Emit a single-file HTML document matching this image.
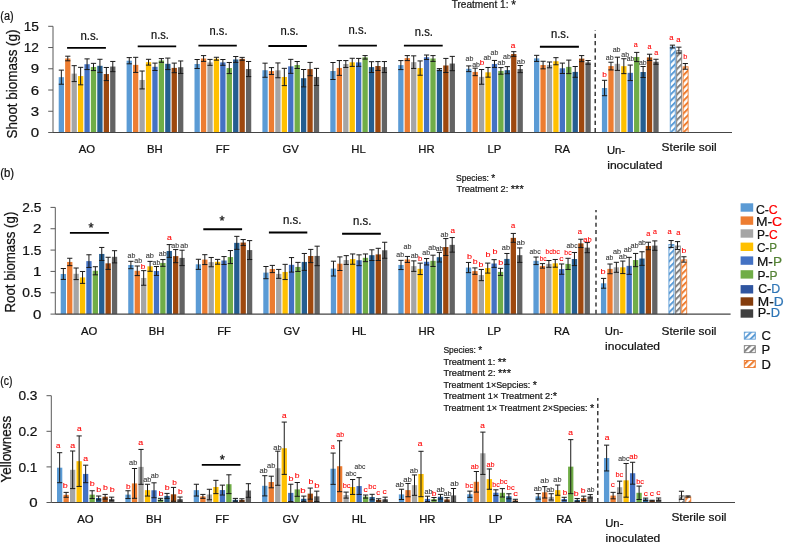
<!DOCTYPE html>
<html><head><meta charset="utf-8"><style>html,body{margin:0;padding:0;background:#fff;}svg{display:block;} text.t{stroke:#111;stroke-width:0.22px;}</style></head><body>
<svg width="785" height="543" viewBox="0 0 785 543" font-family='"Liberation Sans", sans-serif' style="will-change:transform">
<defs>
<pattern id="h0" patternUnits="userSpaceOnUse" width="4.5" height="4.5" patternTransform="rotate(45)"><rect width="4.5" height="4.5" fill="#fff"/><rect width="2.0" height="4.5" fill="#5B9BD5"/></pattern>
<pattern id="h1" patternUnits="userSpaceOnUse" width="4.5" height="4.5" patternTransform="rotate(45)"><rect width="4.5" height="4.5" fill="#fff"/><rect width="2.0" height="4.5" fill="#7F7F7F"/></pattern>
<pattern id="h2" patternUnits="userSpaceOnUse" width="4.5" height="4.5" patternTransform="rotate(45)"><rect width="4.5" height="4.5" fill="#fff"/><rect width="2.0" height="4.5" fill="#ED7D31"/></pattern>
</defs>
<rect width="785" height="543" fill="#fff"/>
<rect x="58.7" y="77.17" width="5.3" height="55.33" fill="#5B9BD5"/>
<rect x="65.13" y="58.5" width="5.3" height="74" fill="#ED7D31"/>
<rect x="71.56" y="73.62" width="5.3" height="58.88" fill="#A5A5A5"/>
<rect x="77.99" y="76.08" width="5.3" height="56.42" fill="#FFC000"/>
<rect x="84.42" y="64.22" width="5.3" height="68.28" fill="#4472C4"/>
<rect x="90.85" y="66.95" width="5.3" height="65.55" fill="#70AD47"/>
<rect x="97.28" y="65.82" width="5.3" height="66.68" fill="#255E91"/>
<rect x="103.71" y="74.03" width="5.3" height="58.47" fill="#9E480E"/>
<rect x="110.14" y="66.55" width="5.3" height="65.95" fill="#636363"/>
<rect x="126.6" y="60.7" width="5.3" height="71.8" fill="#5B9BD5"/>
<rect x="133.03" y="64.88" width="5.3" height="67.62" fill="#ED7D31"/>
<rect x="139.46" y="79.97" width="5.3" height="52.53" fill="#A5A5A5"/>
<rect x="145.89" y="62.2" width="5.3" height="70.3" fill="#FFC000"/>
<rect x="152.32" y="66.8" width="5.3" height="65.7" fill="#4472C4"/>
<rect x="158.75" y="60.47" width="5.3" height="72.03" fill="#70AD47"/>
<rect x="165.18" y="63.83" width="5.3" height="68.67" fill="#255E91"/>
<rect x="171.61" y="67.9" width="5.3" height="64.6" fill="#9E480E"/>
<rect x="178.04" y="67.22" width="5.3" height="65.28" fill="#636363"/>
<rect x="194.5" y="64" width="5.3" height="68.5" fill="#5B9BD5"/>
<rect x="200.93" y="58.5" width="5.3" height="74" fill="#ED7D31"/>
<rect x="207.36" y="62.38" width="5.3" height="70.12" fill="#A5A5A5"/>
<rect x="213.79" y="58.73" width="5.3" height="73.78" fill="#FFC000"/>
<rect x="220.22" y="62.4" width="5.3" height="70.1" fill="#4472C4"/>
<rect x="226.65" y="68.03" width="5.3" height="64.47" fill="#70AD47"/>
<rect x="233.08" y="59.48" width="5.3" height="73.03" fill="#255E91"/>
<rect x="239.51" y="58.83" width="5.3" height="73.67" fill="#9E480E"/>
<rect x="245.94" y="69.03" width="5.3" height="63.47" fill="#636363"/>
<rect x="262.4" y="70.22" width="5.3" height="62.28" fill="#5B9BD5"/>
<rect x="268.83" y="71.07" width="5.3" height="61.43" fill="#ED7D31"/>
<rect x="275.26" y="70.35" width="5.3" height="62.15" fill="#A5A5A5"/>
<rect x="281.69" y="76.98" width="5.3" height="55.52" fill="#FFC000"/>
<rect x="288.12" y="66.35" width="5.3" height="66.15" fill="#4472C4"/>
<rect x="294.55" y="65" width="5.3" height="67.5" fill="#70AD47"/>
<rect x="300.98" y="78.2" width="5.3" height="54.3" fill="#255E91"/>
<rect x="307.41" y="69.07" width="5.3" height="63.43" fill="#9E480E"/>
<rect x="313.84" y="76.93" width="5.3" height="55.57" fill="#636363"/>
<rect x="330.3" y="71" width="5.3" height="61.5" fill="#5B9BD5"/>
<rect x="336.73" y="67.95" width="5.3" height="64.55" fill="#ED7D31"/>
<rect x="343.16" y="64.03" width="5.3" height="68.47" fill="#A5A5A5"/>
<rect x="349.59" y="62.33" width="5.3" height="70.17" fill="#FFC000"/>
<rect x="356.02" y="62.38" width="5.3" height="70.12" fill="#4472C4"/>
<rect x="362.45" y="57.33" width="5.3" height="75.17" fill="#70AD47"/>
<rect x="368.88" y="67.1" width="5.3" height="65.4" fill="#255E91"/>
<rect x="375.31" y="66.03" width="5.3" height="66.47" fill="#9E480E"/>
<rect x="381.74" y="67.05" width="5.3" height="65.45" fill="#636363"/>
<rect x="398.2" y="65.1" width="5.3" height="67.4" fill="#5B9BD5"/>
<rect x="404.63" y="58.1" width="5.3" height="74.4" fill="#ED7D31"/>
<rect x="411.06" y="62.15" width="5.3" height="70.35" fill="#A5A5A5"/>
<rect x="417.49" y="68.08" width="5.3" height="64.42" fill="#FFC000"/>
<rect x="423.92" y="57.27" width="5.3" height="75.22" fill="#4472C4"/>
<rect x="430.35" y="58.5" width="5.3" height="74" fill="#70AD47"/>
<rect x="436.78" y="69.6" width="5.3" height="62.9" fill="#255E91"/>
<rect x="443.21" y="65.47" width="5.3" height="67.03" fill="#9E480E"/>
<rect x="449.64" y="63.53" width="5.3" height="68.97" fill="#636363"/>
<rect x="466.1" y="68.78" width="5.3" height="63.72" fill="#5B9BD5"/>
<rect x="472.53" y="71.92" width="5.3" height="60.58" fill="#ED7D31"/>
<rect x="478.96" y="76.88" width="5.3" height="55.62" fill="#A5A5A5"/>
<rect x="485.39" y="72.32" width="5.3" height="60.18" fill="#FFC000"/>
<rect x="491.82" y="63.95" width="5.3" height="68.55" fill="#4472C4"/>
<rect x="498.25" y="70.9" width="5.3" height="61.6" fill="#70AD47"/>
<rect x="504.68" y="70.17" width="5.3" height="62.33" fill="#255E91"/>
<rect x="511.11" y="54.03" width="5.3" height="78.47" fill="#9E480E"/>
<rect x="517.54" y="69.08" width="5.3" height="63.42" fill="#636363"/>
<rect x="534" y="58.38" width="5.3" height="74.12" fill="#5B9BD5"/>
<rect x="540.43" y="65.05" width="5.3" height="67.45" fill="#ED7D31"/>
<rect x="546.86" y="64.9" width="5.3" height="67.6" fill="#A5A5A5"/>
<rect x="553.29" y="61.23" width="5.3" height="71.28" fill="#FFC000"/>
<rect x="559.72" y="68.3" width="5.3" height="64.2" fill="#4472C4"/>
<rect x="566.15" y="66.88" width="5.3" height="65.62" fill="#70AD47"/>
<rect x="572.58" y="71.9" width="5.3" height="60.6" fill="#255E91"/>
<rect x="579.01" y="58.62" width="5.3" height="73.88" fill="#9E480E"/>
<rect x="585.44" y="62.38" width="5.3" height="70.12" fill="#636363"/>
<rect x="601.9" y="88" width="5.3" height="44.5" fill="#5B9BD5"/>
<rect x="608.33" y="66.08" width="5.3" height="66.42" fill="#ED7D31"/>
<rect x="614.76" y="63.8" width="5.3" height="68.7" fill="#A5A5A5"/>
<rect x="621.19" y="66.18" width="5.3" height="66.32" fill="#FFC000"/>
<rect x="627.62" y="72.82" width="5.3" height="59.68" fill="#4472C4"/>
<rect x="634.05" y="57" width="5.3" height="75.5" fill="#70AD47"/>
<rect x="640.48" y="72" width="5.3" height="60.5" fill="#255E91"/>
<rect x="646.91" y="57.38" width="5.3" height="75.12" fill="#9E480E"/>
<rect x="653.34" y="61.75" width="5.3" height="70.75" fill="#636363"/>
<rect x="670.25" y="47" width="5" height="85.5" fill="url(#h0)" stroke="#5B9BD5" stroke-width="0.9"/>
<rect x="676.68" y="50.58" width="5" height="81.92" fill="url(#h1)" stroke="#7F7F7F" stroke-width="0.9"/>
<rect x="683.11" y="66.83" width="5" height="65.67" fill="url(#h2)" stroke="#ED7D31" stroke-width="0.9"/>
<path d="M61.35 70.12V84.22M58.75 70.12H63.95M58.75 84.22H63.95M67.78 56.2V60.8M65.18 56.2H70.38M65.18 60.8H70.38M74.21 65.67V81.58M71.61 65.67H76.81M71.61 81.58H76.81M80.64 67.33V84.83M78.04 67.33H83.24M78.04 84.83H83.24M87.07 58.88V69.57M84.47 58.88H89.67M84.47 69.57H89.67M93.5 63.35V70.55M90.9 63.35H96.1M90.9 70.55H96.1M99.93 59.27V72.38M97.33 59.27H102.53M97.33 72.38H102.53M106.36 67.48V80.58M103.76 67.48H108.96M103.76 80.58H108.96M112.79 61.45V71.65M110.19 61.45H115.39M110.19 71.65H115.39M129.25 57.6V63.8M126.65 57.6H131.85M126.65 63.8H131.85M135.68 57.32V72.43M133.08 57.32H138.28M133.08 72.43H138.28M142.11 71.03V88.92M139.51 71.03H144.71M139.51 88.92H144.71M148.54 59.3V65.1M145.94 59.3H151.14M145.94 65.1H151.14M154.97 63.1V70.5M152.37 63.1H157.57M152.37 70.5H157.57M161.4 58.62V62.32M158.8 58.62H164M158.8 62.32H164M167.83 58.08V69.58M165.23 58.08H170.43M165.23 69.58H170.43M174.26 63.1V72.7M171.66 63.1H176.86M171.66 72.7H176.86M180.69 60.97V73.47M178.09 60.97H183.29M178.09 73.47H183.29M197.15 59.5V68.5M194.55 59.5H199.75M194.55 68.5H199.75M203.58 55.6V61.4M200.98 55.6H206.18M200.98 61.4H206.18M210.01 59.42V65.33M207.41 59.42H212.61M207.41 65.33H212.61M216.44 57.28V60.17M213.84 57.28H219.04M213.84 60.17H219.04M222.87 59.5V65.3M220.27 59.5H225.47M220.27 65.3H225.47M229.3 62.48V73.58M226.7 62.48H231.9M226.7 73.58H231.9M235.73 56.53V62.42M233.13 56.53H238.33M233.13 62.42H238.33M242.16 57.38V60.28M239.56 57.38H244.76M239.56 60.28H244.76M248.59 61.48V76.58M245.99 61.48H251.19M245.99 76.58H251.19M265.05 63.17V77.28M262.45 63.17H267.65M262.45 77.28H267.65M271.48 67.62V74.52M268.88 67.62H274.08M268.88 74.52H274.08M277.91 62.95V77.75M275.31 62.95H280.51M275.31 77.75H280.51M284.34 68.33V85.62M281.74 68.33H286.94M281.74 85.62H286.94M290.77 59.35V73.35M288.17 59.35H293.37M288.17 73.35H293.37M297.2 61.5V68.5M294.6 61.5H299.8M294.6 68.5H299.8M303.63 69.5V86.9M301.03 69.5H306.23M301.03 86.9H306.23M310.06 62.42V75.72M307.46 62.42H312.66M307.46 75.72H312.66M316.49 68.38V85.48M313.89 68.38H319.09M313.89 85.48H319.09M332.95 62.5V79.5M330.35 62.5H335.55M330.35 79.5H335.55M339.38 60.55V75.35M336.78 60.55H341.98M336.78 75.35H341.98M345.81 60.58V67.48M343.21 60.58H348.41M343.21 67.48H348.41M352.24 58.27V66.38M349.64 58.27H354.84M349.64 66.38H354.84M358.67 58.42V66.33M356.07 58.42H361.27M356.07 66.33H361.27M365.1 55.58V59.08M362.5 55.58H367.7M362.5 59.08H367.7M371.53 61.7V72.5M368.93 61.7H374.13M368.93 72.5H374.13M377.96 61.58V70.48M375.36 61.58H380.56M375.36 70.48H380.56M384.39 61.55V72.55M381.79 61.55H386.99M381.79 72.55H386.99M400.85 60.6V69.6M398.25 60.6H403.45M398.25 69.6H403.45M407.28 55.6V60.6M404.68 55.6H409.88M404.68 60.6H409.88M413.71 55.85V68.45M411.11 55.85H416.31M411.11 68.45H416.31M420.14 60.93V75.22M417.54 60.93H422.74M417.54 75.22H422.74M426.57 55.02V59.52M423.97 55.02H429.17M423.97 59.52H429.17M433 55.6V61.4M430.4 55.6H435.6M430.4 61.4H435.6M439.43 68.6V70.6M436.83 68.6H442.03M436.83 70.6H442.03M445.86 58.42V72.53M443.26 58.42H448.46M443.26 72.53H448.46M452.29 56.38V70.68M449.69 56.38H454.89M449.69 70.68H454.89M468.75 65.93V71.62M466.15 65.93H471.35M466.15 71.62H471.35M475.18 68.17V75.67M472.58 68.17H477.78M472.58 75.67H477.78M481.61 69.53V84.22M479.01 69.53H484.21M479.01 84.22H484.21M488.04 67.47V77.17M485.44 67.47H490.64M485.44 77.17H490.64M494.47 60.45V67.45M491.87 60.45H497.07M491.87 67.45H497.07M500.9 67.6V74.2M498.3 67.6H503.5M498.3 74.2H503.5M507.33 66.62V73.72M504.73 66.62H509.93M504.73 73.72H509.93M513.76 51.68V56.38M511.16 51.68H516.36M511.16 56.38H516.36M520.19 65.53V72.62M517.59 65.53H522.79M517.59 72.62H522.79M536.65 55.33V61.42M534.05 55.33H539.25M534.05 61.42H539.25M543.08 61.25V68.85M540.48 61.25H545.68M540.48 68.85H545.68M549.51 62V67.8M546.91 62H552.11M546.91 67.8H552.11M555.94 57.67V64.78M553.34 57.67H558.54M553.34 64.78H558.54M562.37 63.1V73.5M559.77 63.1H564.97M559.77 73.5H564.97M568.8 60.12V73.62M566.2 60.12H571.4M566.2 73.62H571.4M575.23 66.5V77.3M572.63 66.5H577.83M572.63 77.3H577.83M581.66 55.58V61.67M579.06 55.58H584.26M579.06 61.67H584.26M588.09 60.52V64.22M585.49 60.52H590.69M585.49 64.22H590.69M604.55 80.3V95.7M601.95 80.3H607.15M601.95 95.7H607.15M610.98 62.23V69.92M608.38 62.23H613.58M608.38 69.92H613.58M617.41 57.2V70.4M614.81 57.2H620.01M614.81 70.4H620.01M623.84 58.73V73.62M621.24 58.73H626.44M621.24 73.62H626.44M630.27 65.07V80.57M627.67 65.07H632.87M627.67 80.57H632.87M636.7 52.4V61.6M634.1 52.4H639.3M634.1 61.6H639.3M643.13 66.5V77.5M640.53 66.5H645.73M640.53 77.5H645.73M649.56 54.22V60.53M646.96 54.22H652.16M646.96 60.53H652.16M655.99 59.25V64.25M653.39 59.25H658.59M653.39 64.25H658.59M672.45 45.15V47.95M669.85 45.15H675.05M669.85 47.95H675.05M678.88 47.17V53.08M676.28 47.17H681.48M676.28 53.08H681.48M685.31 63.52V69.22M682.71 63.52H687.91M682.71 69.22H687.91" stroke="#1a1a1a" stroke-width="1" fill="none"/>
<path d="M53 26.3V132.5" stroke="#595959" stroke-width="1" fill="none"/>
<path d="M48.2 132.5H53M48.2 111.26H53M48.2 90.02H53M48.2 68.78H53M48.2 47.54H53M48.2 26.3H53" stroke="#595959" stroke-width="1" fill="none"/>
<path d="M53 132.5H732" stroke="#454545" stroke-width="1.2" fill="none"/>
<text class="t" transform="translate(39 137.2) scale(1.14 1)" font-size="13.2" text-anchor="end" fill="#111111">0</text>
<text class="t" transform="translate(39 115.96) scale(1.14 1)" font-size="13.2" text-anchor="end" fill="#111111">3</text>
<text class="t" transform="translate(39 94.72) scale(1.14 1)" font-size="13.2" text-anchor="end" fill="#111111">6</text>
<text class="t" transform="translate(39 73.48) scale(1.14 1)" font-size="13.2" text-anchor="end" fill="#111111">9</text>
<text class="t" transform="translate(39 52.24) scale(1.04 1)" font-size="13.2" text-anchor="end" fill="#111111">12</text>
<text class="t" transform="translate(39 31) scale(1.04 1)" font-size="13.2" text-anchor="end" fill="#111111">15</text>
<text x="469.45" y="61.4" font-size="7.9" text-anchor="middle" fill="#333333" stroke="#333333" stroke-width="0.1" textLength="7.8" lengthAdjust="spacingAndGlyphs">ab</text>
<text x="476.05" y="67" font-size="7.9" text-anchor="middle" fill="#333333" stroke="#333333" stroke-width="0.1" textLength="7.8" lengthAdjust="spacingAndGlyphs">ab</text>
<text x="482.15" y="65.3" font-size="7.9" text-anchor="middle" fill="#FF0000" stroke="#FF0000" stroke-width="0.1" textLength="4.6" lengthAdjust="spacingAndGlyphs">b</text>
<text x="487.35" y="60.3" font-size="7.9" text-anchor="middle" fill="#333333" stroke="#333333" stroke-width="0.1" textLength="7.8" lengthAdjust="spacingAndGlyphs">ab</text>
<text x="494.4" y="55.4" font-size="7.9" text-anchor="middle" fill="#333333" stroke="#333333" stroke-width="0.1" textLength="7.7" lengthAdjust="spacingAndGlyphs">ab</text>
<text x="501.5" y="65.1" font-size="7.9" text-anchor="middle" fill="#333333" stroke="#333333" stroke-width="0.1" textLength="7.9" lengthAdjust="spacingAndGlyphs">ab</text>
<text x="507" y="59.2" font-size="7.9" text-anchor="middle" fill="#333333" stroke="#333333" stroke-width="0.1" textLength="7.9" lengthAdjust="spacingAndGlyphs">ab</text>
<text x="513.05" y="47.95" font-size="7.9" text-anchor="middle" fill="#FF0000" stroke="#FF0000" stroke-width="0.1" textLength="4.6" lengthAdjust="spacingAndGlyphs">a</text>
<text x="520.95" y="63.7" font-size="7.9" text-anchor="middle" fill="#333333" stroke="#333333" stroke-width="0.1" textLength="8.2" lengthAdjust="spacingAndGlyphs">ab</text>
<text x="604.45" y="76.9" font-size="7.9" text-anchor="middle" fill="#FF0000" stroke="#FF0000" stroke-width="0.1" textLength="4.6" lengthAdjust="spacingAndGlyphs">b</text>
<text x="609.65" y="59.8" font-size="7.9" text-anchor="middle" fill="#333333" stroke="#333333" stroke-width="0.1" textLength="7.8" lengthAdjust="spacingAndGlyphs">ab</text>
<text x="616.6" y="52.2" font-size="7.9" text-anchor="middle" fill="#333333" stroke="#333333" stroke-width="0.1" textLength="7.9" lengthAdjust="spacingAndGlyphs">ab</text>
<text x="625.2" y="56.5" font-size="7.9" text-anchor="middle" fill="#333333" stroke="#333333" stroke-width="0.1" textLength="7.9" lengthAdjust="spacingAndGlyphs">ab</text>
<text x="630.55" y="60.9" font-size="7.9" text-anchor="middle" fill="#333333" stroke="#333333" stroke-width="0.1" textLength="7.6" lengthAdjust="spacingAndGlyphs">ab</text>
<text x="635.65" y="47.25" font-size="7.9" text-anchor="middle" fill="#FF0000" stroke="#FF0000" stroke-width="0.1" textLength="4" lengthAdjust="spacingAndGlyphs">a</text>
<text x="642.8" y="65.3" font-size="7.9" text-anchor="middle" fill="#333333" stroke="#333333" stroke-width="0.1" textLength="7.7" lengthAdjust="spacingAndGlyphs">ab</text>
<text x="649.45" y="49.05" font-size="7.9" text-anchor="middle" fill="#FF0000" stroke="#FF0000" stroke-width="0.1" textLength="4" lengthAdjust="spacingAndGlyphs">a</text>
<text x="656.25" y="55.15" font-size="7.9" text-anchor="middle" fill="#FF0000" stroke="#FF0000" stroke-width="0.1" textLength="4" lengthAdjust="spacingAndGlyphs">a</text>
<text x="671.3" y="39.65" font-size="7.9" text-anchor="middle" fill="#FF0000" stroke="#FF0000" stroke-width="0.1" textLength="4.3" lengthAdjust="spacingAndGlyphs">a</text>
<text x="678.3" y="42.35" font-size="7.9" text-anchor="middle" fill="#FF0000" stroke="#FF0000" stroke-width="0.1" textLength="4.3" lengthAdjust="spacingAndGlyphs">a</text>
<text x="685.4" y="59.4" font-size="7.9" text-anchor="middle" fill="#FF0000" stroke="#FF0000" stroke-width="0.1" textLength="4.1" lengthAdjust="spacingAndGlyphs">b</text>
<path d="M67.1 47.9H105.9" stroke="#000" stroke-width="1.9" fill="none"/>
<text class="t" x="80.4" y="40" font-size="12" fill="#111111" textLength="18.4" lengthAdjust="spacingAndGlyphs">n.s.</text>
<path d="M137.7 46.4H176.2" stroke="#000" stroke-width="1.9" fill="none"/>
<text class="t" x="151.1" y="39" font-size="12" fill="#111111" textLength="17.8" lengthAdjust="spacingAndGlyphs">n.s.</text>
<path d="M198.4 45.6H236.8" stroke="#000" stroke-width="1.9" fill="none"/>
<text class="t" x="209.6" y="35.1" font-size="12" fill="#111111" textLength="17.9" lengthAdjust="spacingAndGlyphs">n.s.</text>
<path d="M268.4 46H306.9" stroke="#000" stroke-width="1.9" fill="none"/>
<text class="t" x="280.4" y="34.8" font-size="12" fill="#111111" textLength="18.1" lengthAdjust="spacingAndGlyphs">n.s.</text>
<path d="M338.4 45.6H376.9" stroke="#000" stroke-width="1.9" fill="none"/>
<text class="t" x="348.6" y="34.1" font-size="12" fill="#111111" textLength="18.2" lengthAdjust="spacingAndGlyphs">n.s.</text>
<path d="M403.9 45.6H442.7" stroke="#000" stroke-width="1.9" fill="none"/>
<text class="t" x="414.8" y="35.8" font-size="12" fill="#111111" textLength="18.1" lengthAdjust="spacingAndGlyphs">n.s.</text>
<path d="M539.9 46.8H578.9" stroke="#000" stroke-width="1.9" fill="none"/>
<text class="t" x="551" y="37.8" font-size="12" fill="#111111" textLength="18.1" lengthAdjust="spacingAndGlyphs">n.s.</text>
<text class="t" x="451.7" y="8" font-size="10.2" fill="#1a1a1a" textLength="64.3" lengthAdjust="spacingAndGlyphs">Treatment 1: <tspan font-size="1.2em" dy="0.9">*</tspan></text>
<path d="M595.2 132.2V30.2" stroke="#1a1a1a" stroke-width="1.3" stroke-dasharray="4.1 3.15" fill="none"/>
<text class="t" x="86.95" y="152.8" font-size="11.3" text-anchor="middle" fill="#111111">AO</text>
<text class="t" x="154.85" y="152.8" font-size="11.3" text-anchor="middle" fill="#111111">BH</text>
<text class="t" x="222.75" y="152.8" font-size="11.3" text-anchor="middle" fill="#111111">FF</text>
<text class="t" x="290.65" y="152.8" font-size="11.3" text-anchor="middle" fill="#111111">GV</text>
<text class="t" x="358.55" y="152.8" font-size="11.3" text-anchor="middle" fill="#111111">HL</text>
<text class="t" x="426.45" y="152.8" font-size="11.3" text-anchor="middle" fill="#111111">HR</text>
<text class="t" x="494.35" y="152.8" font-size="11.3" text-anchor="middle" fill="#111111">LP</text>
<text class="t" x="562.25" y="152.8" font-size="11.3" text-anchor="middle" fill="#111111">RA</text>
<text class="t" x="606.9" y="154.1" font-size="11.3" fill="#111111">Un-</text>
<text class="t" x="607.2" y="168.9" font-size="11.3" fill="#111111" textLength="55.2" lengthAdjust="spacingAndGlyphs">inoculated</text>
<text class="t" x="661.6" y="151.4" font-size="11.3" fill="#111111" textLength="55.1" lengthAdjust="spacingAndGlyphs">Sterile soil</text>
<text class="t" transform="translate(17 138.5) rotate(-90)" font-size="14.2" fill="#111111" textLength="109" lengthAdjust="spacingAndGlyphs">Shoot biomass (g)</text>
<text class="t" x="0.3" y="19.6" font-size="12" fill="#111111" textLength="13.3" lengthAdjust="spacingAndGlyphs">(a)</text>
<rect x="60.7" y="273.98" width="5.3" height="40.12" fill="#5B9BD5"/>
<rect x="67.1" y="261.95" width="5.3" height="52.15" fill="#ED7D31"/>
<rect x="73.5" y="273.8" width="5.3" height="40.3" fill="#A5A5A5"/>
<rect x="79.9" y="277.43" width="5.3" height="36.68" fill="#FFC000"/>
<rect x="86.3" y="261.12" width="5.3" height="52.98" fill="#4472C4"/>
<rect x="92.7" y="270.77" width="5.3" height="43.33" fill="#70AD47"/>
<rect x="99.1" y="253.95" width="5.3" height="60.15" fill="#255E91"/>
<rect x="105.5" y="263.33" width="5.3" height="50.77" fill="#9E480E"/>
<rect x="111.9" y="256.8" width="5.3" height="57.3" fill="#636363"/>
<rect x="128.23" y="265" width="5.3" height="49.1" fill="#5B9BD5"/>
<rect x="134.63" y="270.8" width="5.3" height="43.3" fill="#ED7D31"/>
<rect x="141.03" y="277.95" width="5.3" height="36.15" fill="#A5A5A5"/>
<rect x="147.43" y="266.32" width="5.3" height="47.78" fill="#FFC000"/>
<rect x="153.83" y="270.98" width="5.3" height="43.12" fill="#4472C4"/>
<rect x="160.23" y="262.95" width="5.3" height="51.15" fill="#70AD47"/>
<rect x="166.63" y="251" width="5.3" height="63.1" fill="#255E91"/>
<rect x="173.03" y="256.12" width="5.3" height="57.98" fill="#9E480E"/>
<rect x="179.43" y="257.9" width="5.3" height="56.2" fill="#636363"/>
<rect x="195.76" y="264.32" width="5.3" height="49.78" fill="#5B9BD5"/>
<rect x="202.16" y="259.62" width="5.3" height="54.48" fill="#ED7D31"/>
<rect x="208.56" y="262.12" width="5.3" height="51.98" fill="#A5A5A5"/>
<rect x="214.96" y="261.8" width="5.3" height="52.3" fill="#FFC000"/>
<rect x="221.36" y="260.52" width="5.3" height="53.58" fill="#4472C4"/>
<rect x="227.76" y="257.05" width="5.3" height="57.05" fill="#70AD47"/>
<rect x="234.16" y="242.85" width="5.3" height="71.25" fill="#255E91"/>
<rect x="240.56" y="242.55" width="5.3" height="71.55" fill="#9E480E"/>
<rect x="246.96" y="250.07" width="5.3" height="64.03" fill="#636363"/>
<rect x="263.29" y="272.6" width="5.3" height="41.5" fill="#5B9BD5"/>
<rect x="269.69" y="269" width="5.3" height="45.1" fill="#ED7D31"/>
<rect x="276.09" y="273.88" width="5.3" height="40.23" fill="#A5A5A5"/>
<rect x="282.49" y="271.95" width="5.3" height="42.15" fill="#FFC000"/>
<rect x="288.89" y="264.82" width="5.3" height="49.28" fill="#4472C4"/>
<rect x="295.29" y="266.93" width="5.3" height="47.18" fill="#70AD47"/>
<rect x="301.69" y="261.93" width="5.3" height="52.18" fill="#255E91"/>
<rect x="308.09" y="256" width="5.3" height="58.1" fill="#9E480E"/>
<rect x="314.49" y="255.93" width="5.3" height="58.18" fill="#636363"/>
<rect x="330.82" y="268.6" width="5.3" height="45.5" fill="#5B9BD5"/>
<rect x="337.22" y="263.7" width="5.3" height="50.4" fill="#ED7D31"/>
<rect x="343.62" y="260.05" width="5.3" height="54.05" fill="#A5A5A5"/>
<rect x="350.02" y="259.12" width="5.3" height="54.98" fill="#FFC000"/>
<rect x="356.42" y="260.25" width="5.3" height="53.85" fill="#4472C4"/>
<rect x="362.82" y="257.82" width="5.3" height="56.28" fill="#70AD47"/>
<rect x="369.22" y="255.18" width="5.3" height="58.93" fill="#255E91"/>
<rect x="375.62" y="254.4" width="5.3" height="59.7" fill="#9E480E"/>
<rect x="382.02" y="250.25" width="5.3" height="63.85" fill="#636363"/>
<rect x="398.35" y="264.95" width="5.3" height="49.15" fill="#5B9BD5"/>
<rect x="404.75" y="259.45" width="5.3" height="54.65" fill="#ED7D31"/>
<rect x="411.15" y="266.12" width="5.3" height="47.98" fill="#A5A5A5"/>
<rect x="417.55" y="268.85" width="5.3" height="45.25" fill="#FFC000"/>
<rect x="423.95" y="261.75" width="5.3" height="52.35" fill="#4472C4"/>
<rect x="430.35" y="260.82" width="5.3" height="53.28" fill="#70AD47"/>
<rect x="436.75" y="257.2" width="5.3" height="56.9" fill="#255E91"/>
<rect x="443.15" y="247.02" width="5.3" height="67.08" fill="#9E480E"/>
<rect x="449.55" y="244.85" width="5.3" height="69.25" fill="#636363"/>
<rect x="465.88" y="267.55" width="5.3" height="46.55" fill="#5B9BD5"/>
<rect x="472.28" y="271.1" width="5.3" height="43" fill="#ED7D31"/>
<rect x="478.68" y="275.05" width="5.3" height="39.05" fill="#A5A5A5"/>
<rect x="485.08" y="268.1" width="5.3" height="46" fill="#FFC000"/>
<rect x="491.48" y="263.52" width="5.3" height="50.58" fill="#4472C4"/>
<rect x="497.88" y="271.88" width="5.3" height="42.23" fill="#70AD47"/>
<rect x="504.28" y="258.93" width="5.3" height="55.18" fill="#255E91"/>
<rect x="510.68" y="237.88" width="5.3" height="76.23" fill="#9E480E"/>
<rect x="517.08" y="255.17" width="5.3" height="58.93" fill="#636363"/>
<rect x="533.41" y="260.82" width="5.3" height="53.28" fill="#5B9BD5"/>
<rect x="539.81" y="265.88" width="5.3" height="48.23" fill="#ED7D31"/>
<rect x="546.21" y="263.9" width="5.3" height="50.2" fill="#A5A5A5"/>
<rect x="552.61" y="263.33" width="5.3" height="50.77" fill="#FFC000"/>
<rect x="559.01" y="269.12" width="5.3" height="44.98" fill="#4472C4"/>
<rect x="565.41" y="263.9" width="5.3" height="50.2" fill="#70AD47"/>
<rect x="571.81" y="259.02" width="5.3" height="55.08" fill="#255E91"/>
<rect x="578.21" y="243.38" width="5.3" height="70.73" fill="#9E480E"/>
<rect x="584.61" y="247.62" width="5.3" height="66.48" fill="#636363"/>
<rect x="600.94" y="283.3" width="5.3" height="30.8" fill="#5B9BD5"/>
<rect x="607.34" y="268.88" width="5.3" height="45.23" fill="#ED7D31"/>
<rect x="613.74" y="267.3" width="5.3" height="46.8" fill="#A5A5A5"/>
<rect x="620.14" y="267.32" width="5.3" height="46.78" fill="#FFC000"/>
<rect x="626.54" y="265.85" width="5.3" height="48.25" fill="#4472C4"/>
<rect x="632.94" y="260.05" width="5.3" height="54.05" fill="#70AD47"/>
<rect x="639.34" y="258.55" width="5.3" height="55.55" fill="#255E91"/>
<rect x="645.74" y="245.98" width="5.3" height="68.12" fill="#9E480E"/>
<rect x="652.14" y="245.6" width="5.3" height="68.5" fill="#636363"/>
<rect x="668.92" y="244.5" width="5" height="69.6" fill="url(#h0)" stroke="#5B9BD5" stroke-width="0.9"/>
<rect x="675.32" y="246.02" width="5" height="68.08" fill="url(#h1)" stroke="#7F7F7F" stroke-width="0.9"/>
<rect x="681.72" y="259.9" width="5" height="54.2" fill="url(#h2)" stroke="#ED7D31" stroke-width="0.9"/>
<path d="M63.35 268.53V279.43M60.75 268.53H65.95M60.75 279.43H65.95M69.75 258.25V265.65M67.15 258.25H72.35M67.15 265.65H72.35M76.15 268V279.6M73.55 268H78.75M73.55 279.6H78.75M82.55 271.48V283.38M79.95 271.48H85.15M79.95 283.38H85.15M88.95 254.78V267.48M86.35 254.78H91.55M86.35 267.48H91.55M95.35 266.72V274.82M92.75 266.72H97.95M92.75 274.82H97.95M101.75 247.45V260.45M99.15 247.45H104.35M99.15 260.45H104.35M108.15 257.28V269.38M105.55 257.28H110.75M105.55 269.38H110.75M114.55 250.7V262.9M111.95 250.7H117.15M111.95 262.9H117.15M130.88 261.3V268.7M128.28 261.3H133.48M128.28 268.7H133.48M137.28 266V275.6M134.68 266H139.88M134.68 275.6H139.88M143.68 270.65V285.25M141.08 270.65H146.28M141.08 285.25H146.28M150.08 261.38V271.27M147.48 261.38H152.68M147.48 271.27H152.68M156.48 266.52V275.43M153.88 266.52H159.08M153.88 275.43H159.08M162.88 259.55V266.35M160.28 259.55H165.48M160.28 266.35H165.48M169.28 244.6V257.4M166.68 244.6H171.88M166.68 257.4H171.88M175.68 249.57V262.68M173.08 249.57H178.28M173.08 262.68H178.28M182.08 250.2V265.6M179.48 250.2H184.68M179.48 265.6H184.68M198.41 259.27V269.38M195.81 259.27H201.01M195.81 269.38H201.01M204.81 254.68V264.57M202.21 254.68H207.41M202.21 264.57H207.41M211.21 257.48V266.77M208.61 257.48H213.81M208.61 266.77H213.81M217.61 259.4V264.2M215.01 259.4H220.21M215.01 264.2H220.21M224.01 256.57V264.47M221.41 256.57H226.61M221.41 264.47H226.61M230.41 250.55V263.55M227.81 250.55H233.01M227.81 263.55H233.01M236.81 236.35V249.35M234.21 236.35H239.41M234.21 249.35H239.41M243.21 239.55V245.55M240.61 239.55H245.81M240.61 245.55H245.81M249.61 240.62V259.52M247.01 240.62H252.21M247.01 259.52H252.21M265.94 266.5V278.7M263.34 266.5H268.54M263.34 278.7H268.54M272.34 265.4V272.6M269.74 265.4H274.94M269.74 272.6H274.94M278.74 269.42V278.33M276.14 269.42H281.34M276.14 278.33H281.34M285.14 264.35V279.55M282.54 264.35H287.74M282.54 279.55H287.74M291.54 257.57V272.07M288.94 257.57H294.14M288.94 272.07H294.14M297.94 262.38V271.48M295.34 262.38H300.54M295.34 271.48H300.54M304.34 253.48V270.38M301.74 253.48H306.94M301.74 270.38H306.94M310.74 249.4V262.6M308.14 249.4H313.34M308.14 262.6H313.34M317.14 246.18V265.68M314.54 246.18H319.74M314.54 265.68H319.74M333.47 261.2V276M330.87 261.2H336.07M330.87 276H336.07M339.87 256.9V270.5M337.27 256.9H342.47M337.27 270.5H342.47M346.27 255.65V264.45M343.67 255.65H348.87M343.67 264.45H348.87M352.67 253.98V264.27M350.07 253.98H355.27M350.07 264.27H355.27M359.07 254.85V265.65M356.47 254.85H361.67M356.47 265.65H361.67M365.47 253.97V261.67M362.87 253.97H368.07M362.87 261.67H368.07M371.87 249.82V260.53M369.27 249.82H374.47M369.27 260.53H374.47M378.27 248.3V260.5M375.67 248.3H380.87M375.67 260.5H380.87M384.67 242.25V258.25M382.07 242.25H387.27M382.07 258.25H387.27M401 260.35V269.55M398.4 260.35H403.6M398.4 269.55H403.6M407.4 256.45V262.45M404.8 256.45H410M404.8 262.45H410M413.8 260.88V271.38M411.2 260.88H416.4M411.2 271.38H416.4M420.2 263.15V274.55M417.6 263.15H422.8M417.6 274.55H422.8M426.6 258.55V264.95M424 258.55H429.2M424 264.95H429.2M433 255.18V266.47M430.4 255.18H435.6M430.4 266.47H435.6M439.4 252.4V262M436.8 252.4H442M436.8 262H442M445.8 238.57V255.47M443.2 238.57H448.4M443.2 255.47H448.4M452.2 237.55V252.15M449.6 237.55H454.8M449.6 252.15H454.8M468.53 262.45V272.65M465.93 262.45H471.13M465.93 272.65H471.13M474.93 267.9V274.3M472.33 267.9H477.53M472.33 274.3H477.53M481.33 269.45V280.65M478.73 269.45H483.93M478.73 280.65H483.93M487.73 263.1V273.1M485.13 263.1H490.33M485.13 273.1H490.33M494.13 259.67V267.38M491.53 259.67H496.73M491.53 267.38H496.73M500.53 268.32V275.43M497.93 268.32H503.13M497.93 275.43H503.13M506.93 253.48V264.38M504.33 253.48H509.53M504.33 264.38H509.53M513.33 233.43V242.32M510.73 233.43H515.93M510.73 242.32H515.93M519.73 247.93V262.42M517.13 247.93H522.33M517.13 262.42H522.33M536.06 257.07V264.57M533.46 257.07H538.66M533.46 264.57H538.66M542.46 263.62V268.12M539.86 263.62H545.06M539.86 268.12H545.06M548.86 260.5V267.3M546.26 260.5H551.46M546.26 267.3H551.46M555.26 259.48V267.18M552.66 259.48H557.86M552.66 267.18H557.86M561.66 263.98V274.27M559.06 263.98H564.26M559.06 274.27H564.26M568.06 258.3V269.5M565.46 258.3H570.66M565.46 269.5H570.66M574.46 252.47V265.57M571.86 252.47H577.06M571.86 265.57H577.06M580.86 239.22V247.53M578.26 239.22H583.46M578.26 247.53H583.46M587.26 242.57V252.68M584.66 242.57H589.86M584.66 252.68H589.86M603.59 278.4V288.2M600.99 278.4H606.19M600.99 288.2H606.19M609.99 264.02V273.73M607.39 264.02H612.59M607.39 273.73H612.59M616.39 262.3V272.3M613.79 262.3H618.99M613.79 272.3H618.99M622.79 261.07V273.57M620.19 261.07H625.39M620.19 273.57H625.39M629.19 257.35V274.35M626.59 257.35H631.79M626.59 274.35H631.79M635.59 253.45V266.65M632.99 253.45H638.19M632.99 266.65H638.19M641.99 251.75V265.35M639.39 251.75H644.59M639.39 265.35H644.59M648.39 242.23V249.73M645.79 242.23H650.99M645.79 249.73H650.99M654.79 240.9V250.3M652.19 240.9H657.39M652.19 250.3H657.39M671.12 240.55V247.55M668.52 240.55H673.72M668.52 247.55H673.72M677.52 241.62V249.52M674.92 241.62H680.12M674.92 249.52H680.12M683.92 256.75V262.15M681.32 256.75H686.52M681.32 262.15H686.52" stroke="#1a1a1a" stroke-width="1" fill="none"/>
<path d="M55.3 207.4V314.1" stroke="#595959" stroke-width="1" fill="none"/>
<path d="M50.5 314.1H55.3M50.5 292.76H55.3M50.5 271.42H55.3M50.5 250.08H55.3M50.5 228.74H55.3M50.5 207.4H55.3" stroke="#595959" stroke-width="1" fill="none"/>
<path d="M55.3 314.1H730.6" stroke="#454545" stroke-width="1.2" fill="none"/>
<text class="t" transform="translate(41.4 318.8) scale(1.14 1)" font-size="13.2" text-anchor="end" fill="#111111">0</text>
<text class="t" transform="translate(41.4 297.46) scale(1.04 1)" font-size="13.2" text-anchor="end" fill="#111111">0.5</text>
<text class="t" transform="translate(41.4 276.12) scale(1.14 1)" font-size="13.2" text-anchor="end" fill="#111111">1</text>
<text class="t" transform="translate(41.4 254.78) scale(1.04 1)" font-size="13.2" text-anchor="end" fill="#111111">1.5</text>
<text class="t" transform="translate(41.4 233.44) scale(1.14 1)" font-size="13.2" text-anchor="end" fill="#111111">2</text>
<text class="t" transform="translate(41.4 212.1) scale(1.04 1)" font-size="13.2" text-anchor="end" fill="#111111">2.5</text>
<text x="131.45" y="257.9" font-size="7.9" text-anchor="middle" fill="#333333" stroke="#333333" stroke-width="0.1" textLength="7.8" lengthAdjust="spacingAndGlyphs">ab</text>
<text x="138.3" y="263.4" font-size="7.9" text-anchor="middle" fill="#333333" stroke="#333333" stroke-width="0.1" textLength="7.9" lengthAdjust="spacingAndGlyphs">ab</text>
<text x="143.05" y="268.9" font-size="7.9" text-anchor="middle" fill="#FF0000" stroke="#FF0000" stroke-width="0.1" textLength="4.6" lengthAdjust="spacingAndGlyphs">b</text>
<text x="149.85" y="257.9" font-size="7.9" text-anchor="middle" fill="#333333" stroke="#333333" stroke-width="0.1" textLength="8.2" lengthAdjust="spacingAndGlyphs">ab</text>
<text x="156.4" y="264.7" font-size="7.9" text-anchor="middle" fill="#333333" stroke="#333333" stroke-width="0.1" textLength="7.7" lengthAdjust="spacingAndGlyphs">ab</text>
<text x="162.7" y="256.4" font-size="7.9" text-anchor="middle" fill="#333333" stroke="#333333" stroke-width="0.1" textLength="7.9" lengthAdjust="spacingAndGlyphs">ab</text>
<text x="169.45" y="239.95" font-size="7.9" text-anchor="middle" fill="#FF0000" stroke="#FF0000" stroke-width="0.1" textLength="4.8" lengthAdjust="spacingAndGlyphs">a</text>
<text x="175.3" y="247.6" font-size="7.9" text-anchor="middle" fill="#333333" stroke="#333333" stroke-width="0.1" textLength="7.9" lengthAdjust="spacingAndGlyphs">ab</text>
<text x="184.15" y="248.2" font-size="7.9" text-anchor="middle" fill="#333333" stroke="#333333" stroke-width="0.1" textLength="8" lengthAdjust="spacingAndGlyphs">ab</text>
<text x="400.25" y="256.6" font-size="7.9" text-anchor="middle" fill="#333333" stroke="#333333" stroke-width="0.1" textLength="7.8" lengthAdjust="spacingAndGlyphs">ab</text>
<text x="407.4" y="249.2" font-size="7.9" text-anchor="middle" fill="#333333" stroke="#333333" stroke-width="0.1" textLength="7.9" lengthAdjust="spacingAndGlyphs">ab</text>
<text x="414.6" y="257.5" font-size="7.9" text-anchor="middle" fill="#333333" stroke="#333333" stroke-width="0.1" textLength="7.9" lengthAdjust="spacingAndGlyphs">ab</text>
<text x="420.2" y="260.8" font-size="7.9" text-anchor="middle" fill="#FF0000" stroke="#FF0000" stroke-width="0.1" textLength="4.3" lengthAdjust="spacingAndGlyphs">b</text>
<text x="426.2" y="255.3" font-size="7.9" text-anchor="middle" fill="#333333" stroke="#333333" stroke-width="0.1" textLength="7.9" lengthAdjust="spacingAndGlyphs">ab</text>
<text x="432.3" y="250" font-size="7.9" text-anchor="middle" fill="#333333" stroke="#333333" stroke-width="0.1" textLength="7.9" lengthAdjust="spacingAndGlyphs">ab</text>
<text x="439.55" y="251.1" font-size="7.9" text-anchor="middle" fill="#333333" stroke="#333333" stroke-width="0.1" textLength="7.6" lengthAdjust="spacingAndGlyphs">ab</text>
<text x="444.4" y="236.5" font-size="7.9" text-anchor="middle" fill="#333333" stroke="#333333" stroke-width="0.1" textLength="7.9" lengthAdjust="spacingAndGlyphs">ab</text>
<text x="452.7" y="233.25" font-size="7.9" text-anchor="middle" fill="#FF0000" stroke="#FF0000" stroke-width="0.1" textLength="4.5" lengthAdjust="spacingAndGlyphs">a</text>
<text x="469.55" y="259" font-size="7.9" text-anchor="middle" fill="#FF0000" stroke="#FF0000" stroke-width="0.1" textLength="5" lengthAdjust="spacingAndGlyphs">b</text>
<text x="475.1" y="264.4" font-size="7.9" text-anchor="middle" fill="#FF0000" stroke="#FF0000" stroke-width="0.1" textLength="4.9" lengthAdjust="spacingAndGlyphs">b</text>
<text x="480.9" y="267.3" font-size="7.9" text-anchor="middle" fill="#FF0000" stroke="#FF0000" stroke-width="0.1" textLength="4.9" lengthAdjust="spacingAndGlyphs">b</text>
<text x="487.95" y="257" font-size="7.9" text-anchor="middle" fill="#FF0000" stroke="#FF0000" stroke-width="0.1" textLength="5" lengthAdjust="spacingAndGlyphs">b</text>
<text x="495.05" y="254.4" font-size="7.9" text-anchor="middle" fill="#FF0000" stroke="#FF0000" stroke-width="0.1" textLength="5" lengthAdjust="spacingAndGlyphs">b</text>
<text x="500.85" y="264.8" font-size="7.9" text-anchor="middle" fill="#FF0000" stroke="#FF0000" stroke-width="0.1" textLength="5" lengthAdjust="spacingAndGlyphs">b</text>
<text x="505.95" y="249.9" font-size="7.9" text-anchor="middle" fill="#333333" stroke="#333333" stroke-width="0.1" textLength="8.2" lengthAdjust="spacingAndGlyphs">ab</text>
<text x="513.15" y="228.25" font-size="7.9" text-anchor="middle" fill="#FF0000" stroke="#FF0000" stroke-width="0.1" textLength="4.2" lengthAdjust="spacingAndGlyphs">a</text>
<text x="520.65" y="245.2" font-size="7.9" text-anchor="middle" fill="#333333" stroke="#333333" stroke-width="0.1" textLength="8.4" lengthAdjust="spacingAndGlyphs">ab</text>
<text x="535.05" y="254.2" font-size="7.9" text-anchor="middle" fill="#333333" stroke="#333333" stroke-width="0.1" textLength="11" lengthAdjust="spacingAndGlyphs">abc</text>
<text x="543" y="260.6" font-size="7.9" text-anchor="middle" fill="#FF0000" stroke="#FF0000" stroke-width="0.1" textLength="6.7" lengthAdjust="spacingAndGlyphs">bc</text>
<text x="549" y="254.2" font-size="7.9" text-anchor="middle" fill="#FF0000" stroke="#FF0000" stroke-width="0.1" textLength="7.1" lengthAdjust="spacingAndGlyphs">bc</text>
<text x="556.05" y="254.2" font-size="7.9" text-anchor="middle" fill="#FF0000" stroke="#FF0000" stroke-width="0.1" textLength="7.8" lengthAdjust="spacingAndGlyphs">bc</text>
<text x="561.35" y="261.45" font-size="7.9" text-anchor="middle" fill="#FF0000" stroke="#FF0000" stroke-width="0.1" textLength="4.2" lengthAdjust="spacingAndGlyphs">c</text>
<text x="567.95" y="254.7" font-size="7.9" text-anchor="middle" fill="#FF0000" stroke="#FF0000" stroke-width="0.1" textLength="7.2" lengthAdjust="spacingAndGlyphs">bc</text>
<text x="572.05" y="247.6" font-size="7.9" text-anchor="middle" fill="#333333" stroke="#333333" stroke-width="0.1" textLength="11" lengthAdjust="spacingAndGlyphs">abc</text>
<text x="579.75" y="234.05" font-size="7.9" text-anchor="middle" fill="#FF0000" stroke="#FF0000" stroke-width="0.1" textLength="4.2" lengthAdjust="spacingAndGlyphs">a</text>
<text x="587.55" y="241.5" font-size="7.9" text-anchor="middle" fill="#FF0000" stroke="#FF0000" stroke-width="0.1" textLength="8.4" lengthAdjust="spacingAndGlyphs">ab</text>
<text x="603.1" y="274.4" font-size="7.9" text-anchor="middle" fill="#FF0000" stroke="#FF0000" stroke-width="0.1" textLength="5.1" lengthAdjust="spacingAndGlyphs">b</text>
<text x="609.55" y="260.2" font-size="7.9" text-anchor="middle" fill="#333333" stroke="#333333" stroke-width="0.1" textLength="7.6" lengthAdjust="spacingAndGlyphs">ab</text>
<text x="617.1" y="254.2" font-size="7.9" text-anchor="middle" fill="#333333" stroke="#333333" stroke-width="0.1" textLength="8.1" lengthAdjust="spacingAndGlyphs">ab</text>
<text x="622.95" y="259.2" font-size="7.9" text-anchor="middle" fill="#333333" stroke="#333333" stroke-width="0.1" textLength="8.2" lengthAdjust="spacingAndGlyphs">ab</text>
<text x="627.8" y="251.9" font-size="7.9" text-anchor="middle" fill="#333333" stroke="#333333" stroke-width="0.1" textLength="8.1" lengthAdjust="spacingAndGlyphs">ab</text>
<text x="634.55" y="247.6" font-size="7.9" text-anchor="middle" fill="#333333" stroke="#333333" stroke-width="0.1" textLength="8.2" lengthAdjust="spacingAndGlyphs">ab</text>
<text x="642.05" y="245.4" font-size="7.9" text-anchor="middle" fill="#333333" stroke="#333333" stroke-width="0.1" textLength="7.8" lengthAdjust="spacingAndGlyphs">ab</text>
<text x="648.4" y="236.25" font-size="7.9" text-anchor="middle" fill="#FF0000" stroke="#FF0000" stroke-width="0.1" textLength="4.1" lengthAdjust="spacingAndGlyphs">a</text>
<text x="655" y="234.35" font-size="7.9" text-anchor="middle" fill="#FF0000" stroke="#FF0000" stroke-width="0.1" textLength="3.9" lengthAdjust="spacingAndGlyphs">a</text>
<text x="669.65" y="234.25" font-size="7.9" text-anchor="middle" fill="#FF0000" stroke="#FF0000" stroke-width="0.1" textLength="4.2" lengthAdjust="spacingAndGlyphs">a</text>
<text x="678.35" y="235.35" font-size="7.9" text-anchor="middle" fill="#FF0000" stroke="#FF0000" stroke-width="0.1" textLength="4.2" lengthAdjust="spacingAndGlyphs">a</text>
<text x="683.85" y="253" font-size="7.9" text-anchor="middle" fill="#FF0000" stroke="#FF0000" stroke-width="0.1" textLength="4.8" lengthAdjust="spacingAndGlyphs">b</text>
<path d="M69.9 232.9H108.9" stroke="#000" stroke-width="1.9" fill="none"/>
<text x="91" y="231.7" font-size="13" text-anchor="middle" fill="#111111" stroke="#111111" stroke-width="0.3">*</text>
<path d="M203.3 229.3H242.1" stroke="#000" stroke-width="1.9" fill="none"/>
<text x="222" y="224.7" font-size="13" text-anchor="middle" fill="#111111" stroke="#111111" stroke-width="0.3">*</text>
<path d="M268.9 232.5H307.3" stroke="#000" stroke-width="1.9" fill="none"/>
<text class="t" x="282.9" y="223.5" font-size="12" fill="#111111" textLength="18.5" lengthAdjust="spacingAndGlyphs">n.s.</text>
<path d="M342.1 233.8H380.8" stroke="#000" stroke-width="1.9" fill="none"/>
<text class="t" x="353" y="225" font-size="12" fill="#111111" textLength="18.3" lengthAdjust="spacingAndGlyphs">n.s.</text>
<text class="t" x="456.1" y="180.7" font-size="9.6" fill="#1a1a1a" textLength="39.1" lengthAdjust="spacingAndGlyphs">Species: <tspan font-size="1.2em" dy="0.9">*</tspan></text>
<text class="t" x="456.4" y="191.8" font-size="9.6" fill="#1a1a1a" textLength="67.3" lengthAdjust="spacingAndGlyphs">Treatment 2: <tspan font-size="1.2em" dy="0.9">***</tspan></text>
<path d="M596 313.8V210" stroke="#1a1a1a" stroke-width="1.3" stroke-dasharray="4.1 3.15" fill="none"/>
<text class="t" x="89.06" y="334.7" font-size="11.3" text-anchor="middle" fill="#111111">AO</text>
<text class="t" x="156.59" y="334.7" font-size="11.3" text-anchor="middle" fill="#111111">BH</text>
<text class="t" x="224.12" y="334.7" font-size="11.3" text-anchor="middle" fill="#111111">FF</text>
<text class="t" x="291.66" y="334.7" font-size="11.3" text-anchor="middle" fill="#111111">GV</text>
<text class="t" x="359.19" y="334.7" font-size="11.3" text-anchor="middle" fill="#111111">HL</text>
<text class="t" x="426.72" y="334.7" font-size="11.3" text-anchor="middle" fill="#111111">HR</text>
<text class="t" x="494.25" y="334.7" font-size="11.3" text-anchor="middle" fill="#111111">LP</text>
<text class="t" x="561.77" y="334.7" font-size="11.3" text-anchor="middle" fill="#111111">RA</text>
<text class="t" x="604.8" y="334.8" font-size="11.3" fill="#111111">Un-</text>
<text class="t" x="605.1" y="349.8" font-size="11.3" fill="#111111" textLength="55" lengthAdjust="spacingAndGlyphs">inoculated</text>
<text class="t" x="661.6" y="335.2" font-size="11.3" fill="#111111" textLength="54.9" lengthAdjust="spacingAndGlyphs">Sterile soil</text>
<text class="t" transform="translate(15.1 312.5) rotate(-90)" font-size="14.2" fill="#111111" textLength="100.8" lengthAdjust="spacingAndGlyphs">Root biomass (g)</text>
<text class="t" x="0.2" y="176.6" font-size="12" fill="#111111" textLength="13.9" lengthAdjust="spacingAndGlyphs">(b)</text>
<rect x="57" y="467.7" width="5.3" height="34.8" fill="#5B9BD5"/>
<rect x="63.5" y="494.82" width="5.3" height="7.68" fill="#ED7D31"/>
<rect x="70" y="469.8" width="5.3" height="32.7" fill="#A5A5A5"/>
<rect x="76.5" y="461.18" width="5.3" height="41.32" fill="#FFC000"/>
<rect x="83" y="473.93" width="5.3" height="28.57" fill="#4472C4"/>
<rect x="89.5" y="494.65" width="5.3" height="7.85" fill="#70AD47"/>
<rect x="96" y="497.98" width="5.3" height="4.52" fill="#255E91"/>
<rect x="102.5" y="496.73" width="5.3" height="5.77" fill="#9E480E"/>
<rect x="109" y="498.95" width="5.3" height="3.55" fill="#636363"/>
<rect x="125.37" y="494.65" width="5.3" height="7.85" fill="#5B9BD5"/>
<rect x="131.87" y="483.4" width="5.3" height="19.1" fill="#ED7D31"/>
<rect x="138.37" y="466.88" width="5.3" height="35.62" fill="#A5A5A5"/>
<rect x="144.87" y="490.15" width="5.3" height="12.35" fill="#FFC000"/>
<rect x="151.37" y="490.27" width="5.3" height="12.23" fill="#4472C4"/>
<rect x="157.87" y="499.48" width="5.3" height="3.02" fill="#70AD47"/>
<rect x="164.37" y="495.9" width="5.3" height="6.6" fill="#255E91"/>
<rect x="170.87" y="494.3" width="5.3" height="8.2" fill="#9E480E"/>
<rect x="177.37" y="499.08" width="5.3" height="3.42" fill="#636363"/>
<rect x="193.74" y="490.15" width="5.3" height="12.35" fill="#5B9BD5"/>
<rect x="200.24" y="496.38" width="5.3" height="6.12" fill="#ED7D31"/>
<rect x="206.74" y="494.52" width="5.3" height="7.98" fill="#A5A5A5"/>
<rect x="213.24" y="486.98" width="5.3" height="15.52" fill="#FFC000"/>
<rect x="219.74" y="490.07" width="5.3" height="12.43" fill="#4472C4"/>
<rect x="226.24" y="484.2" width="5.3" height="18.3" fill="#70AD47"/>
<rect x="232.74" y="499.8" width="5.3" height="2.7" fill="#255E91"/>
<rect x="239.24" y="499.93" width="5.3" height="2.57" fill="#9E480E"/>
<rect x="245.74" y="490.5" width="5.3" height="12" fill="#636363"/>
<rect x="262.11" y="485.8" width="5.3" height="16.7" fill="#5B9BD5"/>
<rect x="268.61" y="482" width="5.3" height="20.5" fill="#ED7D31"/>
<rect x="275.11" y="468.23" width="5.3" height="34.27" fill="#A5A5A5"/>
<rect x="281.61" y="448.23" width="5.3" height="54.27" fill="#FFC000"/>
<rect x="288.11" y="492.88" width="5.3" height="9.62" fill="#4472C4"/>
<rect x="294.61" y="489.4" width="5.3" height="13.1" fill="#70AD47"/>
<rect x="301.11" y="498.78" width="5.3" height="3.72" fill="#255E91"/>
<rect x="307.61" y="493.62" width="5.3" height="8.88" fill="#9E480E"/>
<rect x="314.11" y="496.35" width="5.3" height="6.15" fill="#636363"/>
<rect x="330.48" y="468.72" width="5.3" height="33.78" fill="#5B9BD5"/>
<rect x="336.98" y="466.23" width="5.3" height="36.27" fill="#ED7D31"/>
<rect x="343.48" y="495.1" width="5.3" height="7.4" fill="#A5A5A5"/>
<rect x="349.98" y="486.98" width="5.3" height="15.52" fill="#FFC000"/>
<rect x="356.48" y="486.05" width="5.3" height="16.45" fill="#4472C4"/>
<rect x="362.98" y="496.57" width="5.3" height="5.93" fill="#70AD47"/>
<rect x="369.48" y="497.07" width="5.3" height="5.43" fill="#255E91"/>
<rect x="375.98" y="499.93" width="5.3" height="2.57" fill="#9E480E"/>
<rect x="382.48" y="499.12" width="5.3" height="3.38" fill="#636363"/>
<rect x="398.85" y="494.38" width="5.3" height="8.12" fill="#5B9BD5"/>
<rect x="405.35" y="490.12" width="5.3" height="12.38" fill="#ED7D31"/>
<rect x="411.85" y="485.15" width="5.3" height="17.35" fill="#A5A5A5"/>
<rect x="418.35" y="474" width="5.3" height="28.5" fill="#FFC000"/>
<rect x="424.85" y="498.9" width="5.3" height="3.6" fill="#4472C4"/>
<rect x="431.35" y="499.08" width="5.3" height="3.42" fill="#70AD47"/>
<rect x="437.85" y="496.73" width="5.3" height="5.77" fill="#255E91"/>
<rect x="444.35" y="499.4" width="5.3" height="3.1" fill="#9E480E"/>
<rect x="450.85" y="495.4" width="5.3" height="7.1" fill="#636363"/>
<rect x="467.22" y="494.25" width="5.3" height="8.25" fill="#5B9BD5"/>
<rect x="473.72" y="481.8" width="5.3" height="20.7" fill="#ED7D31"/>
<rect x="480.22" y="453.27" width="5.3" height="49.23" fill="#A5A5A5"/>
<rect x="486.72" y="479.12" width="5.3" height="23.38" fill="#FFC000"/>
<rect x="493.22" y="492.7" width="5.3" height="9.8" fill="#4472C4"/>
<rect x="499.72" y="492.8" width="5.3" height="9.7" fill="#70AD47"/>
<rect x="506.22" y="496.25" width="5.3" height="6.25" fill="#255E91"/>
<rect x="512.72" y="500.43" width="5.3" height="2.07" fill="#9E480E"/>
<rect x="535.59" y="496.38" width="5.3" height="6.12" fill="#5B9BD5"/>
<rect x="542.09" y="492.3" width="5.3" height="10.2" fill="#ED7D31"/>
<rect x="548.59" y="496.88" width="5.3" height="5.62" fill="#A5A5A5"/>
<rect x="555.09" y="490.15" width="5.3" height="12.35" fill="#FFC000"/>
<rect x="561.59" y="499" width="5.3" height="3.5" fill="#4472C4"/>
<rect x="568.09" y="466.65" width="5.3" height="35.85" fill="#70AD47"/>
<rect x="574.59" y="499.95" width="5.3" height="2.55" fill="#255E91"/>
<rect x="581.09" y="498.25" width="5.3" height="4.25" fill="#9E480E"/>
<rect x="587.59" y="496.3" width="5.3" height="6.2" fill="#636363"/>
<rect x="603.96" y="458.05" width="5.3" height="44.45" fill="#5B9BD5"/>
<rect x="610.46" y="495.58" width="5.3" height="6.92" fill="#ED7D31"/>
<rect x="616.96" y="487.25" width="5.3" height="15.25" fill="#A5A5A5"/>
<rect x="623.46" y="480.33" width="5.3" height="22.17" fill="#FFC000"/>
<rect x="629.96" y="473.23" width="5.3" height="29.27" fill="#4472C4"/>
<rect x="636.46" y="492.8" width="5.3" height="9.7" fill="#70AD47"/>
<rect x="642.96" y="499.28" width="5.3" height="3.22" fill="#255E91"/>
<rect x="649.46" y="500.65" width="5.3" height="1.85" fill="#9E480E"/>
<rect x="655.96" y="499.4" width="5.3" height="3.1" fill="#636363"/>
<rect x="679.28" y="495.72" width="5" height="6.78" fill="url(#h1)" stroke="#7F7F7F" stroke-width="0.9"/>
<rect x="685.78" y="496.95" width="5" height="5.55" fill="url(#h2)" stroke="#ED7D31" stroke-width="0.9"/>
<path d="M59.65 452.7V482.7M57.05 452.7H62.25M57.05 482.7H62.25M66.15 492.38V497.27M63.55 492.38H68.75M63.55 497.27H68.75M72.65 451V488.6M70.05 451H75.25M70.05 488.6H75.25M79.15 435.93V486.43M76.55 435.93H81.75M76.55 486.43H81.75M85.65 465.18V482.68M83.05 465.18H88.25M83.05 482.68H88.25M92.15 490.75V498.55M89.55 490.75H94.75M89.55 498.55H94.75M98.65 496.03V499.93M96.05 496.03H101.25M96.05 499.93H101.25M105.15 494.38V499.08M102.55 494.38H107.75M102.55 499.08H107.75M111.65 497.15V500.75M109.05 497.15H114.25M109.05 500.75H114.25M128.02 490.75V498.55M125.42 490.75H130.62M125.42 498.55H130.62M134.52 468.5V498.3M131.92 468.5H137.12M131.92 498.3H137.12M141.02 449.43V484.32M138.42 449.43H143.62M138.42 484.32H143.62M147.52 484.25V496.05M144.92 484.25H150.12M144.92 496.05H150.12M154.02 482.82V497.72M151.42 482.82H156.62M151.42 497.72H156.62M160.52 498.33V500.62M157.92 498.33H163.12M157.92 500.62H163.12M167.02 493.4V498.4M164.42 493.4H169.62M164.42 498.4H169.62M173.52 487.4V501.2M170.92 487.4H176.12M170.92 501.2H176.12M180.02 497.03V501.13M177.42 497.03H182.62M177.42 501.13H182.62M196.39 484.25V496.05M193.79 484.25H198.99M193.79 496.05H198.99M202.89 494.42V498.33M200.29 494.42H205.49M200.29 498.33H205.49M209.39 489.27V499.77M206.79 489.27H211.99M206.79 499.77H211.99M215.89 480.33V493.62M213.29 480.33H218.49M213.29 493.62H218.49M222.39 485.12V495.02M219.79 485.12H224.99M219.79 495.02H224.99M228.89 474.8V493.6M226.29 474.8H231.49M226.29 493.6H231.49M235.39 498.4V501.2M232.79 498.4H237.99M232.79 501.2H237.99M241.89 498.77V501.08M239.29 498.77H244.49M239.29 501.08H244.49M248.39 483.7V497.3M245.79 483.7H250.99M245.79 497.3H250.99M264.76 475.7V495.9M262.16 475.7H267.36M262.16 495.9H267.36M271.26 476.2V487.8M268.66 476.2H273.86M268.66 487.8H273.86M277.76 451.18V485.28M275.16 451.18H280.36M275.16 485.28H280.36M284.26 422.08V474.38M281.66 422.08H286.86M281.66 474.38H286.86M290.76 484.23V501.52M288.16 484.23H293.36M288.16 501.52H293.36M297.26 482.5V496.3M294.66 482.5H299.86M294.66 496.3H299.86M303.76 496.12V501.43M301.16 496.12H306.36M301.16 501.43H306.36M310.26 488.07V499.18M307.66 488.07H312.86M307.66 499.18H312.86M316.76 491.15V501.55M314.16 491.15H319.36M314.16 501.55H319.36M333.13 453.07V484.38M330.53 453.07H335.73M330.53 484.38H335.73M339.63 440.78V491.68M337.03 440.78H342.23M337.03 491.68H342.23M346.13 492.1V498.1M343.53 492.1H348.73M343.53 498.1H348.73M352.63 479.53V494.43M350.03 479.53H355.23M350.03 494.43H355.23M359.13 477.65V494.45M356.53 477.65H361.73M356.53 494.45H361.73M365.63 495.02V498.12M363.03 495.02H368.23M363.03 498.12H368.23M372.13 494.32V499.82M369.53 494.32H374.73M369.53 499.82H374.73M378.63 498.77V501.08M376.03 498.77H381.23M376.03 501.08H381.23M385.13 497.17V501.08M382.53 497.17H387.73M382.53 501.08H387.73M401.5 489.23V499.52M398.9 489.23H404.1M398.9 499.52H404.1M408 483.48V496.77M405.4 483.48H410.6M405.4 496.77H410.6M414.5 474.95V495.35M411.9 474.95H417.1M411.9 495.35H417.1M421 451.3V496.7M418.4 451.3H423.6M418.4 496.7H423.6M427.5 496.2V501.6M424.9 496.2H430.1M424.9 501.6H430.1M434 497.53V500.63M431.4 497.53H436.6M431.4 500.63H436.6M440.5 494.38V499.08M437.9 494.38H443.1M437.9 499.08H443.1M447 497.6V501.2M444.4 497.6H449.6M444.4 501.2H449.6M453.5 488.5V502.3M450.9 488.5H456.1M450.9 502.3H456.1M469.87 491.15V497.35M467.27 491.15H472.47M467.27 497.35H472.47M476.37 471.5V492.1M473.77 471.5H478.97M473.77 492.1H478.97M482.87 432.12V474.42M480.27 432.12H485.47M480.27 474.42H485.47M489.37 468.98V489.27M486.77 468.98H491.97M486.77 489.27H491.97M495.87 489.8V495.6M493.27 489.8H498.47M493.27 495.6H498.47M502.37 488.6V497M499.77 488.6H504.97M499.77 497H504.97M508.87 493.75V498.75M506.27 493.75H511.47M506.27 498.75H511.47M515.37 499.28V501.57M512.77 499.28H517.97M512.77 501.57H517.97M538.24 493.62V499.12M535.64 493.62H540.84M535.64 499.12H540.84M544.74 486.6V498M542.14 486.6H547.34M542.14 498H547.34M551.24 493.73V500.02M548.64 493.73H553.84M548.64 500.02H553.84M557.74 485.05V495.25M555.14 485.05H560.34M555.14 495.25H560.34M564.24 497.3V500.7M561.64 497.3H566.84M561.64 500.7H566.84M570.74 439.65V493.65M568.14 439.65H573.34M568.14 493.65H573.34M577.24 498.55V501.35M574.64 498.55H579.84M574.64 501.35H579.84M583.74 496.15V500.35M581.14 496.15H586.34M581.14 500.35H586.34M590.24 494.6V498M587.64 494.6H592.84M587.64 498H592.84M606.61 445.15V470.95M604.01 445.15H609.21M604.01 470.95H609.21M613.11 492.33V498.83M610.51 492.33H615.71M610.51 498.83H615.71M619.61 481.15V493.35M617.01 481.15H622.21M617.01 493.35H622.21M626.11 463.48V497.18M623.51 463.48H628.71M623.51 497.18H628.71M632.61 462.28V484.18M630.01 462.28H635.21M630.01 484.18H635.21M639.11 486.1V499.5M636.51 486.1H641.71M636.51 499.5H641.71M645.61 498.12V500.43M643.01 498.12H648.21M643.01 500.43H648.21M652.11 500.25V501.05M649.51 500.25H654.71M649.51 501.05H654.71M658.61 498V500.8M656.01 498H661.21M656.01 500.8H661.21M681.48 491.23V499.32M678.88 491.23H684.08M678.88 499.32H684.08M687.98 495.9V497.1M685.38 495.9H690.58M685.38 497.1H690.58" stroke="#1a1a1a" stroke-width="1" fill="none"/>
<path d="M51.3 395.7V502.5" stroke="#595959" stroke-width="1" fill="none"/>
<path d="M46.5 502.5H51.3M46.5 466.9H51.3M46.5 431.3H51.3M46.5 395.7H51.3" stroke="#595959" stroke-width="1" fill="none"/>
<path d="M51.3 502.5H735" stroke="#454545" stroke-width="1.2" fill="none"/>
<text class="t" transform="translate(37.5 507.2) scale(1.14 1)" font-size="13.2" text-anchor="end" fill="#111111">0</text>
<text class="t" transform="translate(37.5 471.6) scale(1.04 1)" font-size="13.2" text-anchor="end" fill="#111111">0.1</text>
<text class="t" transform="translate(37.5 436) scale(1.04 1)" font-size="13.2" text-anchor="end" fill="#111111">0.2</text>
<text class="t" transform="translate(37.5 400.4) scale(1.04 1)" font-size="13.2" text-anchor="end" fill="#111111">0.3</text>
<text x="58.25" y="448.25" font-size="7.9" text-anchor="middle" fill="#FF0000" stroke="#FF0000" stroke-width="0.1" textLength="4.4" lengthAdjust="spacingAndGlyphs">a</text>
<text x="65.15" y="488.2" font-size="7.9" text-anchor="middle" fill="#FF0000" stroke="#FF0000" stroke-width="0.1" textLength="5" lengthAdjust="spacingAndGlyphs">b</text>
<text x="72.6" y="448.25" font-size="7.9" text-anchor="middle" fill="#FF0000" stroke="#FF0000" stroke-width="0.1" textLength="4.9" lengthAdjust="spacingAndGlyphs">a</text>
<text x="79.4" y="431.35" font-size="7.9" text-anchor="middle" fill="#FF0000" stroke="#FF0000" stroke-width="0.1" textLength="4.7" lengthAdjust="spacingAndGlyphs">a</text>
<text x="85.65" y="460.75" font-size="7.9" text-anchor="middle" fill="#FF0000" stroke="#FF0000" stroke-width="0.1" textLength="4.8" lengthAdjust="spacingAndGlyphs">a</text>
<text x="92.15" y="485.7" font-size="7.9" text-anchor="middle" fill="#FF0000" stroke="#FF0000" stroke-width="0.1" textLength="5" lengthAdjust="spacingAndGlyphs">b</text>
<text x="98.75" y="491.9" font-size="7.9" text-anchor="middle" fill="#FF0000" stroke="#FF0000" stroke-width="0.1" textLength="5" lengthAdjust="spacingAndGlyphs">b</text>
<text x="105.5" y="490.3" font-size="7.9" text-anchor="middle" fill="#FF0000" stroke="#FF0000" stroke-width="0.1" textLength="4.9" lengthAdjust="spacingAndGlyphs">b</text>
<text x="112.15" y="491.9" font-size="7.9" text-anchor="middle" fill="#FF0000" stroke="#FF0000" stroke-width="0.1" textLength="5" lengthAdjust="spacingAndGlyphs">b</text>
<text x="128.25" y="488.5" font-size="7.9" text-anchor="middle" fill="#FF0000" stroke="#FF0000" stroke-width="0.1" textLength="4.6" lengthAdjust="spacingAndGlyphs">b</text>
<text x="133.15" y="465" font-size="7.9" text-anchor="middle" fill="#333333" stroke="#333333" stroke-width="0.1" textLength="8.2" lengthAdjust="spacingAndGlyphs">ab</text>
<text x="140.6" y="444.65" font-size="7.9" text-anchor="middle" fill="#FF0000" stroke="#FF0000" stroke-width="0.1" textLength="4.9" lengthAdjust="spacingAndGlyphs">a</text>
<text x="147.25" y="481.9" font-size="7.9" text-anchor="middle" fill="#333333" stroke="#333333" stroke-width="0.1" textLength="8.2" lengthAdjust="spacingAndGlyphs">ab</text>
<text x="154.7" y="478.3" font-size="7.9" text-anchor="middle" fill="#333333" stroke="#333333" stroke-width="0.1" textLength="8.1" lengthAdjust="spacingAndGlyphs">ab</text>
<text x="160.95" y="495.5" font-size="7.9" text-anchor="middle" fill="#FF0000" stroke="#FF0000" stroke-width="0.1" textLength="5" lengthAdjust="spacingAndGlyphs">b</text>
<text x="167.2" y="489.7" font-size="7.9" text-anchor="middle" fill="#FF0000" stroke="#FF0000" stroke-width="0.1" textLength="4.9" lengthAdjust="spacingAndGlyphs">b</text>
<text x="174.45" y="485" font-size="7.9" text-anchor="middle" fill="#FF0000" stroke="#FF0000" stroke-width="0.1" textLength="4.6" lengthAdjust="spacingAndGlyphs">b</text>
<text x="180.3" y="494" font-size="7.9" text-anchor="middle" fill="#FF0000" stroke="#FF0000" stroke-width="0.1" textLength="4.7" lengthAdjust="spacingAndGlyphs">b</text>
<text x="263.6" y="472.5" font-size="7.9" text-anchor="middle" fill="#333333" stroke="#333333" stroke-width="0.1" textLength="8.3" lengthAdjust="spacingAndGlyphs">ab</text>
<text x="271.2" y="467.9" font-size="7.9" text-anchor="middle" fill="#333333" stroke="#333333" stroke-width="0.1" textLength="8.3" lengthAdjust="spacingAndGlyphs">ab</text>
<text x="277.4" y="449.5" font-size="7.9" text-anchor="middle" fill="#333333" stroke="#333333" stroke-width="0.1" textLength="8.3" lengthAdjust="spacingAndGlyphs">ab</text>
<text x="284.25" y="418.35" font-size="7.9" text-anchor="middle" fill="#FF0000" stroke="#FF0000" stroke-width="0.1" textLength="4.6" lengthAdjust="spacingAndGlyphs">a</text>
<text x="290.95" y="480.6" font-size="7.9" text-anchor="middle" fill="#FF0000" stroke="#FF0000" stroke-width="0.1" textLength="5" lengthAdjust="spacingAndGlyphs">b</text>
<text x="297.05" y="477.6" font-size="7.9" text-anchor="middle" fill="#FF0000" stroke="#FF0000" stroke-width="0.1" textLength="4.8" lengthAdjust="spacingAndGlyphs">b</text>
<text x="303.05" y="492.8" font-size="7.9" text-anchor="middle" fill="#FF0000" stroke="#FF0000" stroke-width="0.1" textLength="5.4" lengthAdjust="spacingAndGlyphs">b</text>
<text x="310.9" y="484" font-size="7.9" text-anchor="middle" fill="#FF0000" stroke="#FF0000" stroke-width="0.1" textLength="4.9" lengthAdjust="spacingAndGlyphs">b</text>
<text x="316.9" y="487.5" font-size="7.9" text-anchor="middle" fill="#FF0000" stroke="#FF0000" stroke-width="0.1" textLength="5.3" lengthAdjust="spacingAndGlyphs">b</text>
<text x="332.7" y="448.55" font-size="7.9" text-anchor="middle" fill="#FF0000" stroke="#FF0000" stroke-width="0.1" textLength="4.1" lengthAdjust="spacingAndGlyphs">a</text>
<text x="340.25" y="436.5" font-size="7.9" text-anchor="middle" fill="#FF0000" stroke="#FF0000" stroke-width="0.1" textLength="7.8" lengthAdjust="spacingAndGlyphs">ab</text>
<text x="346.55" y="487.7" font-size="7.9" text-anchor="middle" fill="#FF0000" stroke="#FF0000" stroke-width="0.1" textLength="7.8" lengthAdjust="spacingAndGlyphs">bc</text>
<text x="350.9" y="476.4" font-size="7.9" text-anchor="middle" fill="#333333" stroke="#333333" stroke-width="0.1" textLength="10.9" lengthAdjust="spacingAndGlyphs">abc</text>
<text x="359.85" y="469.4" font-size="7.9" text-anchor="middle" fill="#333333" stroke="#333333" stroke-width="0.1" textLength="10.8" lengthAdjust="spacingAndGlyphs">abc</text>
<text x="365.55" y="492.45" font-size="7.9" text-anchor="middle" fill="#FF0000" stroke="#FF0000" stroke-width="0.1" textLength="4.2" lengthAdjust="spacingAndGlyphs">c</text>
<text x="372.2" y="489.3" font-size="7.9" text-anchor="middle" fill="#FF0000" stroke="#FF0000" stroke-width="0.1" textLength="8.1" lengthAdjust="spacingAndGlyphs">bc</text>
<text x="378.25" y="494.75" font-size="7.9" text-anchor="middle" fill="#FF0000" stroke="#FF0000" stroke-width="0.1" textLength="3.8" lengthAdjust="spacingAndGlyphs">c</text>
<text x="384.65" y="493.65" font-size="7.9" text-anchor="middle" fill="#FF0000" stroke="#FF0000" stroke-width="0.1" textLength="4.2" lengthAdjust="spacingAndGlyphs">c</text>
<text x="399.7" y="486.9" font-size="7.9" text-anchor="middle" fill="#333333" stroke="#333333" stroke-width="0.1" textLength="8.5" lengthAdjust="spacingAndGlyphs">ab</text>
<text x="407.55" y="481.9" font-size="7.9" text-anchor="middle" fill="#333333" stroke="#333333" stroke-width="0.1" textLength="8.6" lengthAdjust="spacingAndGlyphs">ab</text>
<text x="413.95" y="472.5" font-size="7.9" text-anchor="middle" fill="#333333" stroke="#333333" stroke-width="0.1" textLength="8.2" lengthAdjust="spacingAndGlyphs">ab</text>
<text x="420" y="446.25" font-size="7.9" text-anchor="middle" fill="#FF0000" stroke="#FF0000" stroke-width="0.1" textLength="4.7" lengthAdjust="spacingAndGlyphs">a</text>
<text x="428.45" y="494.4" font-size="7.9" text-anchor="middle" fill="#333333" stroke="#333333" stroke-width="0.1" textLength="8" lengthAdjust="spacingAndGlyphs">ab</text>
<text x="434.1" y="496" font-size="7.9" text-anchor="middle" fill="#FF0000" stroke="#FF0000" stroke-width="0.1" textLength="4.7" lengthAdjust="spacingAndGlyphs">b</text>
<text x="440.6" y="491.6" font-size="7.9" text-anchor="middle" fill="#333333" stroke="#333333" stroke-width="0.1" textLength="8.3" lengthAdjust="spacingAndGlyphs">ab</text>
<text x="447.6" y="496" font-size="7.9" text-anchor="middle" fill="#333333" stroke="#333333" stroke-width="0.1" textLength="8.1" lengthAdjust="spacingAndGlyphs">ab</text>
<text x="454.55" y="486.1" font-size="7.9" text-anchor="middle" fill="#333333" stroke="#333333" stroke-width="0.1" textLength="8.6" lengthAdjust="spacingAndGlyphs">ab</text>
<text x="469.2" y="488.2" font-size="7.9" text-anchor="middle" fill="#FF0000" stroke="#FF0000" stroke-width="0.1" textLength="7.7" lengthAdjust="spacingAndGlyphs">bc</text>
<text x="474.85" y="468.6" font-size="7.9" text-anchor="middle" fill="#FF0000" stroke="#FF0000" stroke-width="0.1" textLength="8" lengthAdjust="spacingAndGlyphs">ab</text>
<text x="482.55" y="428.25" font-size="7.9" text-anchor="middle" fill="#FF0000" stroke="#FF0000" stroke-width="0.1" textLength="4.6" lengthAdjust="spacingAndGlyphs">a</text>
<text x="490.5" y="467" font-size="7.9" text-anchor="middle" fill="#FF0000" stroke="#FF0000" stroke-width="0.1" textLength="8.1" lengthAdjust="spacingAndGlyphs">ab</text>
<text x="496" y="487.2" font-size="7.9" text-anchor="middle" fill="#FF0000" stroke="#FF0000" stroke-width="0.1" textLength="7.5" lengthAdjust="spacingAndGlyphs">bc</text>
<text x="503.65" y="483.5" font-size="7.9" text-anchor="middle" fill="#FF0000" stroke="#FF0000" stroke-width="0.1" textLength="7.8" lengthAdjust="spacingAndGlyphs">bc</text>
<text x="510.7" y="490" font-size="7.9" text-anchor="middle" fill="#FF0000" stroke="#FF0000" stroke-width="0.1" textLength="7.7" lengthAdjust="spacingAndGlyphs">bc</text>
<text x="515.45" y="495.55" font-size="7.9" text-anchor="middle" fill="#FF0000" stroke="#FF0000" stroke-width="0.1" textLength="4.6" lengthAdjust="spacingAndGlyphs">c</text>
<text x="537.75" y="491.1" font-size="7.9" text-anchor="middle" fill="#333333" stroke="#333333" stroke-width="0.1" textLength="8.2" lengthAdjust="spacingAndGlyphs">ab</text>
<text x="544.65" y="483" font-size="7.9" text-anchor="middle" fill="#333333" stroke="#333333" stroke-width="0.1" textLength="8.6" lengthAdjust="spacingAndGlyphs">ab</text>
<text x="550.3" y="492.1" font-size="7.9" text-anchor="middle" fill="#333333" stroke="#333333" stroke-width="0.1" textLength="8.3" lengthAdjust="spacingAndGlyphs">ab</text>
<text x="557.4" y="482.2" font-size="7.9" text-anchor="middle" fill="#333333" stroke="#333333" stroke-width="0.1" textLength="8.1" lengthAdjust="spacingAndGlyphs">ab</text>
<text x="565" y="495.2" font-size="7.9" text-anchor="middle" fill="#FF0000" stroke="#FF0000" stroke-width="0.1" textLength="4.5" lengthAdjust="spacingAndGlyphs">b</text>
<text x="570.5" y="435.25" font-size="7.9" text-anchor="middle" fill="#FF0000" stroke="#FF0000" stroke-width="0.1" textLength="4.7" lengthAdjust="spacingAndGlyphs">a</text>
<text x="576.2" y="496" font-size="7.9" text-anchor="middle" fill="#FF0000" stroke="#FF0000" stroke-width="0.1" textLength="4.9" lengthAdjust="spacingAndGlyphs">b</text>
<text x="583.05" y="492.9" font-size="7.9" text-anchor="middle" fill="#FF0000" stroke="#FF0000" stroke-width="0.1" textLength="4.8" lengthAdjust="spacingAndGlyphs">b</text>
<text x="590.65" y="492.1" font-size="7.9" text-anchor="middle" fill="#333333" stroke="#333333" stroke-width="0.1" textLength="7.4" lengthAdjust="spacingAndGlyphs">ab</text>
<text x="607.1" y="439.95" font-size="7.9" text-anchor="middle" fill="#FF0000" stroke="#FF0000" stroke-width="0.1" textLength="4.7" lengthAdjust="spacingAndGlyphs">a</text>
<text x="612.8" y="487.45" font-size="7.9" text-anchor="middle" fill="#FF0000" stroke="#FF0000" stroke-width="0.1" textLength="4.1" lengthAdjust="spacingAndGlyphs">c</text>
<text x="619.3" y="476.7" font-size="7.9" text-anchor="middle" fill="#FF0000" stroke="#FF0000" stroke-width="0.1" textLength="7.7" lengthAdjust="spacingAndGlyphs">bc</text>
<text x="623.85" y="460.8" font-size="7.9" text-anchor="middle" fill="#333333" stroke="#333333" stroke-width="0.1" textLength="11.2" lengthAdjust="spacingAndGlyphs">abc</text>
<text x="633.5" y="459" font-size="7.9" text-anchor="middle" fill="#FF0000" stroke="#FF0000" stroke-width="0.1" textLength="8.5" lengthAdjust="spacingAndGlyphs">ab</text>
<text x="640.15" y="483.5" font-size="7.9" text-anchor="middle" fill="#FF0000" stroke="#FF0000" stroke-width="0.1" textLength="7.8" lengthAdjust="spacingAndGlyphs">bc</text>
<text x="645.7" y="495.55" font-size="7.9" text-anchor="middle" fill="#FF0000" stroke="#FF0000" stroke-width="0.1" textLength="4.1" lengthAdjust="spacingAndGlyphs">c</text>
<text x="651.95" y="495.55" font-size="7.9" text-anchor="middle" fill="#FF0000" stroke="#FF0000" stroke-width="0.1" textLength="4.2" lengthAdjust="spacingAndGlyphs">c</text>
<text x="658.25" y="494.75" font-size="7.9" text-anchor="middle" fill="#FF0000" stroke="#FF0000" stroke-width="0.1" textLength="4.2" lengthAdjust="spacingAndGlyphs">c</text>
<path d="M201.8 464.9H240.5" stroke="#000" stroke-width="1.9" fill="none"/>
<text x="222.4" y="463.7" font-size="13" text-anchor="middle" fill="#111111" stroke="#111111" stroke-width="0.3">*</text>
<text class="t" x="443.4" y="352.9" font-size="8.8" fill="#1a1a1a" textLength="38.9" lengthAdjust="spacingAndGlyphs">Species: <tspan font-size="1.2em" dy="0.9">*</tspan></text>
<text class="t" x="443.4" y="364.6" font-size="8.8" fill="#1a1a1a" textLength="63" lengthAdjust="spacingAndGlyphs">Treatment 1: <tspan font-size="1.2em" dy="0.9">**</tspan></text>
<text class="t" x="443.4" y="376" font-size="8.8" fill="#1a1a1a" textLength="67.6" lengthAdjust="spacingAndGlyphs">Treatment 2: <tspan font-size="1.2em" dy="0.9">***</tspan></text>
<text class="t" x="443.4" y="387.7" font-size="8.8" fill="#1a1a1a" textLength="93.5" lengthAdjust="spacingAndGlyphs">Treatment 1×Sepcies: <tspan font-size="1.2em" dy="0.9">*</tspan></text>
<text class="t" x="443.4" y="399.2" font-size="8.8" fill="#1a1a1a" textLength="113.7" lengthAdjust="spacingAndGlyphs">Treatment 1× Treatment 2:<tspan font-size="1.2em" dy="0.9">*</tspan></text>
<text class="t" x="443.4" y="410.6" font-size="8.8" fill="#1a1a1a" textLength="150.9" lengthAdjust="spacingAndGlyphs">Treatment 1× Treatment 2×Species: <tspan font-size="1.2em" dy="0.9">*</tspan></text>
<path d="M597.8 502.2V398" stroke="#1a1a1a" stroke-width="1.3" stroke-dasharray="4.1 3.15" fill="none"/>
<text class="t" x="85.48" y="522.9" font-size="11.3" text-anchor="middle" fill="#111111">AO</text>
<text class="t" x="153.86" y="522.9" font-size="11.3" text-anchor="middle" fill="#111111">BH</text>
<text class="t" x="222.23" y="522.9" font-size="11.3" text-anchor="middle" fill="#111111">FF</text>
<text class="t" x="290.6" y="522.9" font-size="11.3" text-anchor="middle" fill="#111111">GV</text>
<text class="t" x="358.97" y="522.9" font-size="11.3" text-anchor="middle" fill="#111111">HL</text>
<text class="t" x="427.34" y="522.9" font-size="11.3" text-anchor="middle" fill="#111111">HR</text>
<text class="t" x="495.71" y="522.9" font-size="11.3" text-anchor="middle" fill="#111111">LP</text>
<text class="t" x="564.08" y="522.9" font-size="11.3" text-anchor="middle" fill="#111111">RA</text>
<text class="t" x="605.2" y="526.8" font-size="11.3" fill="#111111">Un-</text>
<text class="t" x="605.5" y="541.6" font-size="11.3" fill="#111111" textLength="54.8" lengthAdjust="spacingAndGlyphs">inoculated</text>
<text class="t" x="671.4" y="520.9" font-size="11.3" fill="#111111" textLength="55.1" lengthAdjust="spacingAndGlyphs">Sterile soil</text>
<text class="t" transform="translate(10.8 482.5) rotate(-90)" font-size="14.2" fill="#111111" textLength="66.6" lengthAdjust="spacingAndGlyphs">Yellowness</text>
<text class="t" x="0.2" y="385.3" font-size="12" fill="#111111" textLength="12.2" lengthAdjust="spacingAndGlyphs">(c)</text>
<rect x="740.6" y="203.3" width="12.6" height="8.4" fill="#5B9BD5"/>
<text class="t" x="755.9" y="213.5" font-size="13.2" fill="#111111" textLength="21.8" lengthAdjust="spacingAndGlyphs">C-<tspan fill="#FF0000" stroke="#FF0000">C</tspan></text>
<rect x="740.6" y="216.4" width="12.6" height="8.4" fill="#ED7D31"/>
<text class="t" x="755.9" y="226" font-size="13.2" fill="#111111" textLength="26.2" lengthAdjust="spacingAndGlyphs">M-<tspan fill="#FF0000" stroke="#FF0000">C</tspan></text>
<rect x="740.6" y="229.3" width="12.6" height="8.4" fill="#A5A5A5"/>
<text class="t" x="757" y="239.2" font-size="13.2" fill="#111111" textLength="20.6" lengthAdjust="spacingAndGlyphs">P-<tspan fill="#FF0000" stroke="#FF0000">C</tspan></text>
<rect x="740.6" y="242.6" width="12.6" height="8.4" fill="#FFC000"/>
<text class="t" x="756.9" y="252.1" font-size="13.2" fill="#111111" textLength="20.2" lengthAdjust="spacingAndGlyphs">C-<tspan fill="#548235" stroke="#548235">P</tspan></text>
<rect x="740.6" y="256.4" width="12.6" height="8.4" fill="#4472C4"/>
<text class="t" x="757" y="266.2" font-size="13.2" fill="#111111" textLength="25" lengthAdjust="spacingAndGlyphs">M-<tspan fill="#548235" stroke="#548235">P</tspan></text>
<rect x="740.6" y="270.2" width="12.6" height="8.4" fill="#70AD47"/>
<text class="t" x="757.6" y="279.7" font-size="13.2" fill="#111111" textLength="20" lengthAdjust="spacingAndGlyphs">P-<tspan fill="#548235" stroke="#548235">P</tspan></text>
<rect x="740.6" y="285.1" width="12.6" height="8.4" fill="#2F55A0"/>
<text class="t" x="758.2" y="292.9" font-size="13.2" fill="#111111" textLength="22" lengthAdjust="spacingAndGlyphs">C-<tspan fill="#2E75B6" stroke="#2E75B6">D</tspan></text>
<rect x="740.6" y="297.3" width="12.6" height="8.4" fill="#843C0C"/>
<text class="t" x="757.8" y="305.9" font-size="13.2" fill="#111111" textLength="25.9" lengthAdjust="spacingAndGlyphs">M-<tspan fill="#2E75B6" stroke="#2E75B6">D</tspan></text>
<rect x="740.6" y="309.3" width="12.6" height="8.4" fill="#404040"/>
<text class="t" x="757.8" y="317.4" font-size="13.2" fill="#111111" textLength="22.1" lengthAdjust="spacingAndGlyphs">P-<tspan fill="#2E75B6" stroke="#2E75B6">D</tspan></text>
<rect x="744.3" y="332.15" width="11" height="7" fill="url(#h0)" stroke="#5B9BD5" stroke-width="0.9"/>
<text class="t" x="761.5" y="340.3" font-size="13" fill="#111111">C</text>
<rect x="744.3" y="345.65" width="11" height="7" fill="url(#h1)" stroke="#7F7F7F" stroke-width="0.9"/>
<text class="t" x="761.5" y="353.8" font-size="13" fill="#111111">P</text>
<rect x="744.3" y="360.55" width="11" height="7" fill="url(#h2)" stroke="#ED7D31" stroke-width="0.9"/>
<text class="t" x="761.5" y="368.7" font-size="13" fill="#111111">D</text>
</svg>
</body></html>
